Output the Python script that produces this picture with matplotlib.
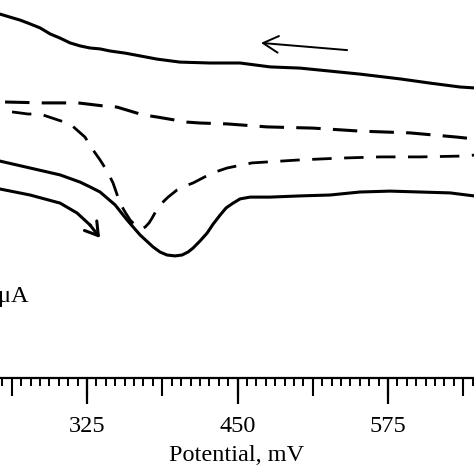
import matplotlib
matplotlib.use("Agg")
import matplotlib.pyplot as plt
from matplotlib.ticker import MultipleLocator, NullFormatter, NullLocator

plt.rcParams["font.family"] = ["Liberation Serif", "DejaVu Serif"]

# Potential (mV) and current (uA, arbitrary offset)
# return sweep, solid
rev_solid_mv = [252.7, 261.0, 269.4, 276.0, 286.0, 294.3, 302.6, 310.9, 319.2, 327.5, 335.8, 344.1,
                356.6, 369.9, 383.1, 402.2, 427.2, 452.1, 477.0, 501.9, 526.8, 551.7, 585.0,
                609.9, 634.8, 646.4]
rev_solid_ua = [12.13, 12.03, 11.93, 11.83, 11.67, 11.47, 11.33, 11.17, 11.07, 11.00, 10.97, 10.90,
                10.83, 10.73, 10.63, 10.53, 10.50, 10.50, 10.37, 10.33, 10.23, 10.13, 9.97,
                9.83, 9.70, 9.67]

# forward sweep, solid
fwd_solid_mv = [252.7, 277.7, 302.6, 319.2, 327.5, 335.8, 348.3, 358.2, 369.0, 379.8, 385.6, 391.4,
                398.1, 403.9, 408.9, 413.0, 418.9, 424.7, 429.7, 435.5, 440.5, 446.3, 452.1, 460.4,
                477.0, 501.9, 526.8, 551.7, 576.7, 601.6, 626.5, 646.4]
fwd_solid_ua = [7.23, 7.00, 6.77, 6.53, 6.37, 6.20, 5.77, 5.27, 4.77, 4.37, 4.20, 4.10,
                4.07, 4.10, 4.20, 4.33, 4.57, 4.83, 5.13, 5.43, 5.67, 5.83, 5.97, 6.03,
                6.03, 6.07, 6.10, 6.20, 6.23, 6.20, 6.17, 6.07]

# return sweep, dashed
rev_dash_mv = [256.9, 288.5, 317.5, 338.3, 349.9, 371.5, 383.1, 408.0, 418.9, 441.3, 474.5,
               512.7, 551.7, 593.3, 632.3, 646.4]
rev_dash_ua = [9.20, 9.17, 9.17, 9.07, 9.03, 8.77, 8.70, 8.53, 8.50, 8.47, 8.37,
               8.33, 8.23, 8.17, 8.03, 7.97]

# forward sweep, dashed
fwd_dash_mv = [262.7, 276.0, 286.0, 300.9, 310.9, 323.3, 330.0, 335.8, 341.6, 346.6, 352.4, 356.6,
               360.7, 366.5, 369.9, 373.2, 376.5, 379.0, 382.3, 385.6, 392.3, 399.8, 406.4, 413.0,
               428.8, 441.3, 462.0, 501.9, 535.1, 568.4, 601.6, 639.0, 646.4]
fwd_dash_ua = [8.87, 8.80, 8.80, 8.60, 8.47, 8.03, 7.60, 7.27, 6.90, 6.50, 5.83, 5.53,
               5.27, 5.03, 4.97, 5.03, 5.17, 5.33, 5.57, 5.77, 6.03, 6.27, 6.40, 6.50,
               6.83, 7.00, 7.17, 7.27, 7.33, 7.37, 7.37, 7.40, 7.43]

# curved scan-direction arrow (lower left)
arrow_mv = [252.7, 277.7, 302.6, 316.7, 327.5, 335.8]
arrow_ua = [6.30, 6.10, 5.83, 5.50, 5.10, 4.67]

fig = plt.figure(figsize=(4.74, 4.74), dpi=100)
ax = fig.add_axes([0, 0.2025, 1, 0.7975])

ax.plot(rev_solid_mv, rev_solid_ua, color="black", lw=2.2)
ax.plot(fwd_solid_mv, fwd_solid_ua, color="black", lw=2.2)
ax.plot(rev_dash_mv, rev_dash_ua, color="black", lw=2.2, dashes=(8, 4))
ax.plot(fwd_dash_mv, fwd_dash_ua, color="black", lw=2.0, dashes=(7, 4.5))

ax.plot(arrow_mv[:-1], arrow_ua[:-1], color="black", lw=2.2)
ax.annotate("", xy=(arrow_mv[-1], arrow_ua[-1]), xytext=(arrow_mv[-2], arrow_ua[-2]),
            arrowprops=dict(arrowstyle="->,head_length=0.45,head_width=0.28",
                            lw=2.2, color="black", mutation_scale=20, shrinkA=0, shrinkB=0))

# straight arrow for the return sweep
ax.annotate("", xy=(469.5, 11.17), xytext=(541.0, 10.93),
            arrowprops=dict(arrowstyle="->,head_length=0.55,head_width=0.3",
                            lw=1.4, color="black", mutation_scale=20, shrinkA=0, shrinkB=0))

ax.set_xlim(252.7, 646.4)
ax.set_ylim(0, 12.6)

for s in ["left", "right", "top"]:
    ax.spines[s].set_visible(False)
ax.spines["bottom"].set_linewidth(1.6)
ax.set_yticks([])

ax.xaxis.set_major_locator(MultipleLocator(125, offset=75))
ax.xaxis.set_minor_locator(MultipleLocator(125 / 16, offset=125 / 16 * 0.6))
ax.tick_params(axis="x", which="major", direction="out", length=19, width=1.6,
               labelsize=17.5, pad=8.5)
ax.tick_params(axis="x", which="minor", direction="out", length=6, width=1.4)

# medium ticks every 62.5 mV
sec = ax.secondary_xaxis("bottom")
sec.spines["bottom"].set_visible(False)
sec.xaxis.set_major_locator(MultipleLocator(62.5, offset=12.5))
sec.xaxis.set_major_formatter(NullFormatter())
sec.xaxis.set_minor_locator(NullLocator())
sec.tick_params(axis="x", which="major", direction="out", length=13, width=1.5)

ax.set_xlabel("Potential, mV", fontsize=17.5, labelpad=5.5)

fig.text(29 / 474, 1 - 302 / 474, "μA", fontsize=17.5, ha="right", va="baseline")

fig.savefig("out.png", dpi=100)
